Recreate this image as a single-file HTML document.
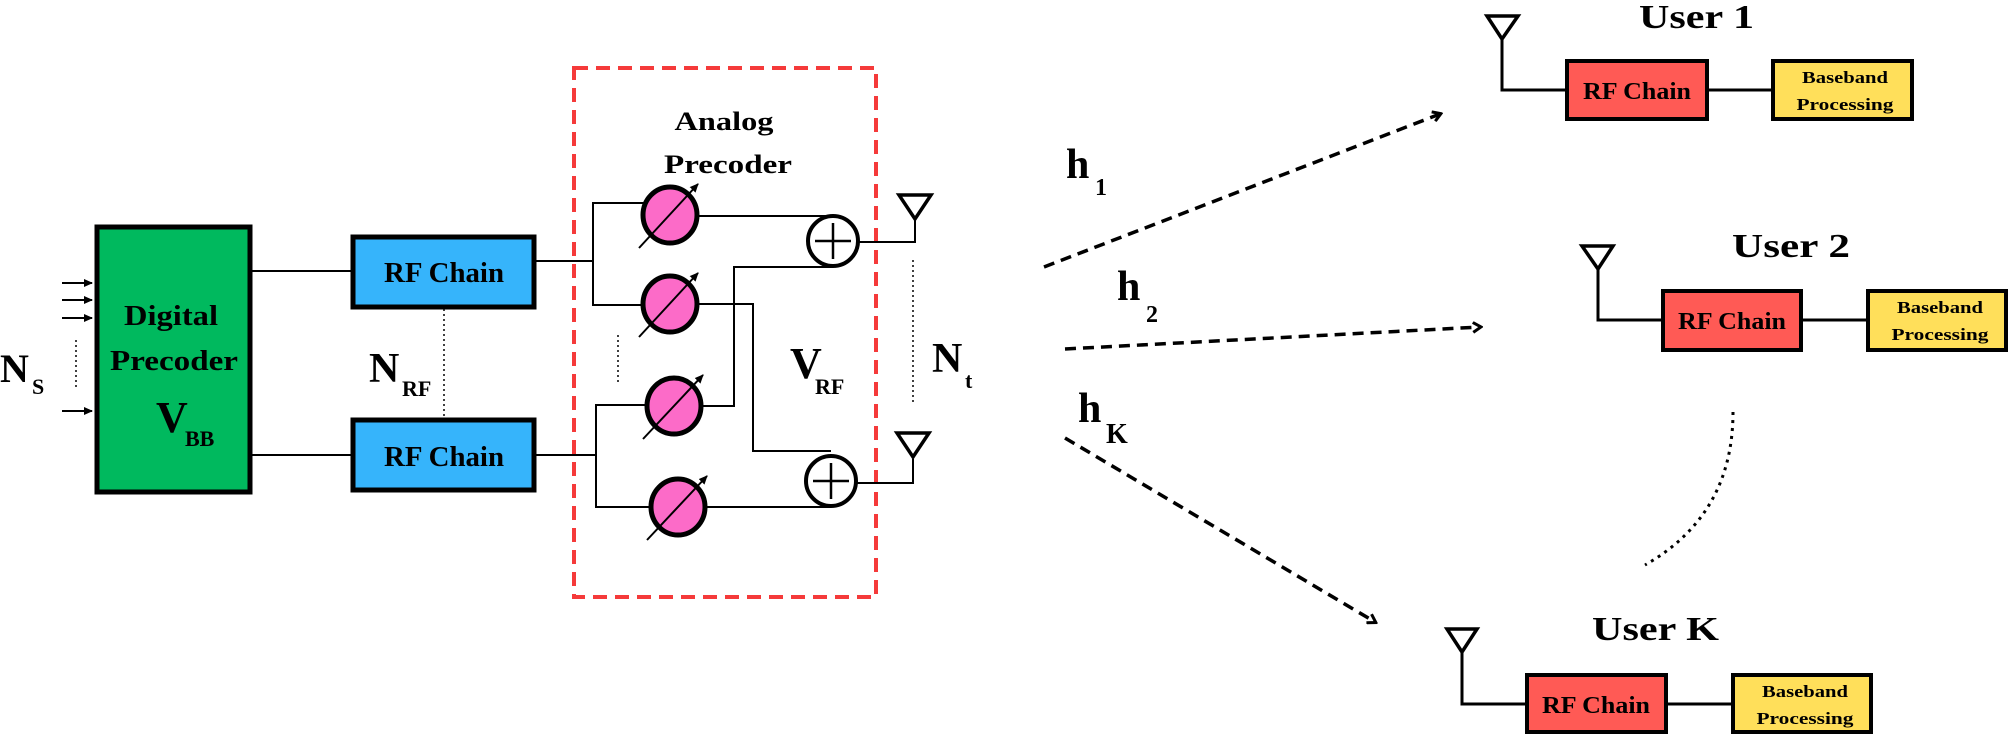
<!DOCTYPE html>
<html><head><meta charset="utf-8"><style>
html,body{margin:0;padding:0;background:#fff;}
svg{display:block;}
text{font-family:"Liberation Serif","DejaVu Serif",serif;font-weight:bold;fill:#000;}
</style></head><body>
<svg width="2008" height="734" viewBox="0 0 2008 734" xmlns="http://www.w3.org/2000/svg">
<defs>
<marker id="ah" markerWidth="12" markerHeight="12" refX="9" refY="6" orient="auto" markerUnits="userSpaceOnUse">
<path d="M2,1 L10,6 L2,11" fill="none" stroke="#000" stroke-width="3"/>
</marker>
<marker id="sa" markerWidth="10" markerHeight="10" refX="8" refY="5" orient="auto" markerUnits="userSpaceOnUse">
<path d="M0,1 L9,5 L0,9 Z" fill="#000"/>
</marker>
</defs>

<text x="0" y="382" font-size="40">N</text>
<text x="32" y="394" font-size="22">S</text>
<g stroke="#000" stroke-width="2">
<line x1="62" y1="283" x2="92" y2="283" marker-end="url(#sa)"/>
<line x1="62" y1="300" x2="92" y2="300" marker-end="url(#sa)"/>
<line x1="62" y1="318" x2="92" y2="318" marker-end="url(#sa)"/>
<line x1="62" y1="411" x2="92" y2="411" marker-end="url(#sa)"/>
</g>
<line x1="76" y1="340" x2="76" y2="389" stroke="#000" stroke-width="1.5" stroke-dasharray="2,3"/>

<rect x="97" y="227" width="153" height="265" fill="#00b95e" stroke="#000" stroke-width="5"/>
<text x="171" y="325" font-size="28" text-anchor="middle" textLength="94" lengthAdjust="spacingAndGlyphs">Digital</text>
<text x="174" y="370" font-size="28" text-anchor="middle" textLength="128" lengthAdjust="spacingAndGlyphs">Precoder</text>
<text x="156" y="432" font-size="44">V</text>
<text x="185" y="446" font-size="22">BB</text>

<g stroke="#000" stroke-width="2" fill="none">
<line x1="250" y1="271" x2="353" y2="271"/>
<line x1="250" y1="455" x2="353" y2="455"/>
</g>
<rect x="353" y="237" width="181" height="70" fill="#36b4fb" stroke="#000" stroke-width="5"/>
<rect x="353" y="420" width="181" height="70" fill="#36b4fb" stroke="#000" stroke-width="5"/>
<text x="444" y="282" font-size="28" text-anchor="middle" textLength="120" lengthAdjust="spacingAndGlyphs">RF Chain</text>
<text x="444" y="466" font-size="28" text-anchor="middle" textLength="120" lengthAdjust="spacingAndGlyphs">RF Chain</text>
<line x1="444" y1="309" x2="444" y2="418" stroke="#000" stroke-width="1.5" stroke-dasharray="2,3"/>
<text x="369" y="382" font-size="42">N</text>
<text x="402" y="396" font-size="22">RF</text>

<rect x="574" y="68" width="302" height="529" fill="none" stroke="#f53a3a" stroke-width="4" stroke-dasharray="14,8"/>
<text x="724" y="130" font-size="26" text-anchor="middle" textLength="99" lengthAdjust="spacingAndGlyphs">Analog</text>
<text x="728" y="173" font-size="26" text-anchor="middle" textLength="128" lengthAdjust="spacingAndGlyphs">Precoder</text>

<g stroke="#000" stroke-width="2" fill="none">
<polyline points="534,261 593,261"/>
<polyline points="645,203 593,203 593,305 645,305"/>
<polyline points="534,455 596,455"/>
<polyline points="650,405 596,405 596,507 650,507"/>
<polyline points="698,216 833,216"/>
<polyline points="702,406 734,406 734,267 833,267"/>
<polyline points="698,304 753,304 753,451 831,451"/>
<polyline points="705,507 831,507"/>
<polyline points="859,242 915,242 915,220"/>
<polyline points="857,483 913,483 913,459"/>
</g>
<line x1="618" y1="335" x2="618" y2="382" stroke="#000" stroke-width="1.5" stroke-dasharray="2,3"/>
<line x1="913" y1="260" x2="913" y2="403" stroke="#000" stroke-width="1.5" stroke-dasharray="2,3"/>

<g stroke="#000" stroke-width="5" fill="#fc6bc8">
<ellipse cx="670" cy="215" rx="27" ry="28"/>
<ellipse cx="670" cy="304" rx="27" ry="28"/>
<ellipse cx="674" cy="406" rx="27" ry="28"/>
<ellipse cx="678" cy="507" rx="27" ry="28"/>
</g>
<g stroke="#000" stroke-width="2">
<line x1="639" y1="248" x2="698" y2="184" marker-end="url(#sa)"/>
<line x1="639" y1="337" x2="698" y2="273" marker-end="url(#sa)"/>
<line x1="643" y1="439" x2="703" y2="375" marker-end="url(#sa)"/>
<line x1="647" y1="540" x2="707" y2="476" marker-end="url(#sa)"/>
</g>

<g stroke="#000" stroke-width="4" fill="#fff">
<circle cx="833" cy="241" r="25"/>
<circle cx="831" cy="481" r="25"/>
</g>
<g stroke="#000" stroke-width="2.5">
<line x1="815" y1="241" x2="851" y2="241"/><line x1="833" y1="223" x2="833" y2="259"/>
<line x1="813" y1="481" x2="849" y2="481"/><line x1="831" y1="463" x2="831" y2="499"/>
</g>

<g stroke="#000" stroke-width="3.5" fill="#fff">
<path d="M899,195 L931,195 L915,219 Z"/>
<path d="M897,433 L929,433 L913,457 Z"/>
</g>

<text x="790" y="378" font-size="44">V</text>
<text x="815" y="394" font-size="22">RF</text>
<text x="932" y="372" font-size="42">N</text>
<text x="965" y="388" font-size="22">t</text>

<g stroke="#000" stroke-width="3.5" fill="none" stroke-dasharray="11,7">
<line x1="1044" y1="267" x2="1440" y2="114" marker-end="url(#ah)"/>
<line x1="1065" y1="349" x2="1480" y2="327" marker-end="url(#ah)"/>
<line x1="1065" y1="438" x2="1375" y2="622" marker-end="url(#ah)"/>
</g>
<text x="1066" y="178" font-size="42">h</text>
<text x="1095" y="195" font-size="24">1</text>
<text x="1117" y="300" font-size="42">h</text>
<text x="1146" y="322" font-size="24">2</text>
<text x="1078" y="422" font-size="42">h</text>
<text x="1106" y="443" font-size="28">K</text>

<path d="M1733,412 Q1733,515 1645,565" stroke="#000" stroke-width="3" fill="none" stroke-dasharray="3,5"/>

<g stroke="#000" stroke-width="3" fill="none">
<polyline points="1502,40 1502,90 1567,90"/>
<line x1="1707" y1="90" x2="1773" y2="90"/>
<polyline points="1598,270 1598,320 1663,320"/>
<line x1="1801" y1="320" x2="1868" y2="320"/>
<polyline points="1462,653 1462,704 1527,704"/>
<line x1="1666" y1="704" x2="1733" y2="704"/>
</g>
<g stroke="#000" stroke-width="3.5" fill="#fff">
<path d="M1487,16 L1518,16 L1502,39 Z"/>
<path d="M1582,246 L1613,246 L1598,269 Z"/>
<path d="M1447,629 L1477,629 L1462,652 Z"/>
</g>
<g stroke="#000" stroke-width="4">
<rect x="1567" y="61" width="140" height="58" fill="#ff5a55"/>
<rect x="1773" y="61" width="139" height="58" fill="#ffdf5a"/>
<rect x="1663" y="291" width="138" height="59" fill="#ff5a55"/>
<rect x="1868" y="291" width="138" height="59" fill="#ffdf5a"/>
<rect x="1527" y="675" width="139" height="57" fill="#ff5a55"/>
<rect x="1733" y="675" width="138" height="57" fill="#ffdf5a"/>
</g>
<g font-size="24" text-anchor="middle">
<text x="1637" y="99" textLength="108" lengthAdjust="spacingAndGlyphs">RF Chain</text>
<text x="1732" y="329" textLength="108" lengthAdjust="spacingAndGlyphs">RF Chain</text>
<text x="1596" y="713" textLength="108" lengthAdjust="spacingAndGlyphs">RF Chain</text>
</g>
<g font-size="17" text-anchor="middle">
<text x="1845" y="83" textLength="86" lengthAdjust="spacingAndGlyphs">Baseband</text>
<text x="1845" y="110" textLength="97" lengthAdjust="spacingAndGlyphs">Processing</text>
<text x="1940" y="313" textLength="86" lengthAdjust="spacingAndGlyphs">Baseband</text>
<text x="1940" y="340" textLength="97" lengthAdjust="spacingAndGlyphs">Processing</text>
<text x="1805" y="697" textLength="86" lengthAdjust="spacingAndGlyphs">Baseband</text>
<text x="1805" y="724" textLength="97" lengthAdjust="spacingAndGlyphs">Processing</text>
</g>
<g font-size="34">
<text x="1639" y="28" textLength="115" lengthAdjust="spacingAndGlyphs">User  1</text>
<text x="1732" y="257" textLength="118" lengthAdjust="spacingAndGlyphs">User  2</text>
<text x="1592" y="640" textLength="127" lengthAdjust="spacingAndGlyphs">User  K</text>
</g>
</svg>
</body></html>
